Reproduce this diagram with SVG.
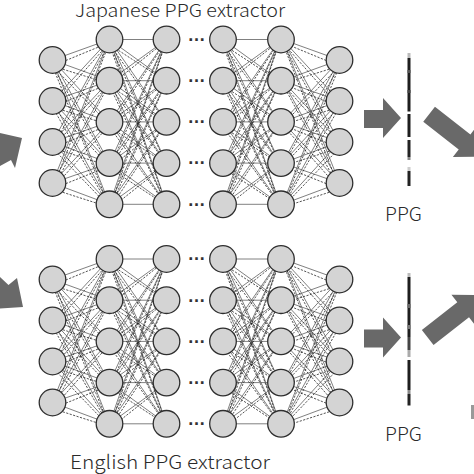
<svg xmlns="http://www.w3.org/2000/svg" xmlns:xlink="http://www.w3.org/1999/xlink" width="474" height="474" viewBox="0 0 474 474">
<style>
.nd{fill:#d4d4d4;stroke:#2e2e2e;stroke-width:1.3}
.sl{fill:none;stroke:#555;stroke-width:0.75}
.dl{fill:none;stroke:#1a1a1a;stroke-width:0.75;stroke-dasharray:2.2 1.4}
.lbl{font-family:"Noto Sans CJK JP","Noto Sans",sans-serif;font-weight:300;fill:#2a2a2a}
.dots{font-family:"Liberation Sans",sans-serif;font-size:18px;font-weight:bold;fill:#333;text-anchor:middle}
.arr{fill:#696969}
</style>
<defs>
<g id="gA">
<path class="sl" d="M0 60L57 39.5M0 60L57 80.7M0 60L57 121.9M0 60L57 163.1M0 60L57 204.3M0 101L57 39.5M0 101L57 80.7M0 101L57 121.9M0 101L57 163.1M0 101L57 204.3M0 142L57 39.5M0 142L57 80.7M0 142L57 121.9M0 142L57 163.1M0 142L57 204.3M0 183L57 39.5M0 183L57 80.7M0 183L57 121.9M0 183L57 163.1M0 183L57 204.3"/>
<path class="dl" d="M0 66L57 42.5M0 66L57 83.7M0 66L57 124.9M0 66L57 166.1M0 66L57 207.3M0 107L57 42.5M0 107L57 83.7M0 107L57 124.9M0 107L57 166.1M0 107L57 207.3M0 148L57 42.5M0 148L57 83.7M0 148L57 124.9M0 148L57 166.1M0 148L57 207.3M0 189L57 42.5M0 189L57 83.7M0 189L57 124.9M0 189L57 166.1M0 189L57 207.3"/>
</g>
<g id="gB">
<path class="sl" d="M0 39.5L57 39.5M0 39.5L57 80.7M0 39.5L57 121.9M0 39.5L57 163.1M0 39.5L57 204.3M0 80.7L57 39.5M0 80.7L57 80.7M0 80.7L57 121.9M0 80.7L57 163.1M0 80.7L57 204.3M0 121.9L57 39.5M0 121.9L57 80.7M0 121.9L57 121.9M0 121.9L57 163.1M0 121.9L57 204.3M0 163.1L57 39.5M0 163.1L57 80.7M0 163.1L57 121.9M0 163.1L57 163.1M0 163.1L57 204.3M0 204.3L57 39.5M0 204.3L57 80.7M0 204.3L57 121.9M0 204.3L57 163.1M0 204.3L57 204.3"/>
<path class="dl" d="M0 44.5L57 81.7M0 44.5L57 122.9M0 44.5L57 164.1M0 44.5L57 205.3M0 85.7L57 40.5M0 85.7L57 122.9M0 85.7L57 164.1M0 85.7L57 205.3M0 126.9L57 40.5M0 126.9L57 81.7M0 126.9L57 164.1M0 126.9L57 205.3M0 168.1L57 40.5M0 168.1L57 81.7M0 168.1L57 122.9M0 168.1L57 205.3M0 209.3L57 40.5M0 209.3L57 81.7M0 209.3L57 122.9M0 209.3L57 164.1"/>
</g>
<polygon id="bigArrow" points="0,-9.5 45,-9.5 45,-19 69,0 45,19 45,9.5 0,9.5"/>
</defs>

<g id="connectors">
<use xlink:href="#gA" transform="translate(52.5,0)"/>
<use xlink:href="#gB" transform="translate(109.5,0)"/>
<use xlink:href="#gB" transform="translate(223,0)"/>
<use xlink:href="#gA" transform="translate(339.5,0) scale(-1,1)"/>
<use xlink:href="#gA" transform="translate(52.5,219.5)"/>
<use xlink:href="#gB" transform="translate(109.5,219.5)"/>
<use xlink:href="#gB" transform="translate(223,219.5)"/>
<use xlink:href="#gA" transform="translate(339.5,219.5) scale(-1,1)"/>
<polygon class="arr" points="364,110 383,110 383,98 401,118 383,138 383,128 364,128"/>
<polygon class="arr" points="364,329.5 383,329.5 383,317.5 401,337.5 383,357.5 383,347.5 364,347.5"/>
<use xlink:href="#bigArrow" class="arr" transform="translate(429.1,114.2) rotate(38)"/>
<use xlink:href="#bigArrow" class="arr" transform="translate(427.7,337.5) rotate(-38)"/>
<polygon class="arr" points="0,133 22,138 15,168 11,160 0,166"/>
<polygon class="arr" points="0,277 8.5,285 17,278 23,307 0,308.5"/>
</g>

<g id="japanese-extractor">
<text class="lbl" x="75" y="16.5" font-size="18" textLength="210" lengthAdjust="spacingAndGlyphs">Japanese PPG extractor</text>
<g id="j-l1-1"><circle class="nd" cx="52.5" cy="60" r="13.3"/></g>
<g id="j-l1-2"><circle class="nd" cx="52.5" cy="101" r="13.3"/></g>
<g id="j-l1-3"><circle class="nd" cx="52.5" cy="142" r="13.3"/></g>
<g id="j-l1-4"><circle class="nd" cx="52.5" cy="183" r="13.3"/></g>
<g id="j-l2-1"><circle class="nd" cx="109.5" cy="39.5" r="13.3"/></g>
<g id="j-l2-2"><circle class="nd" cx="109.5" cy="80.7" r="13.3"/></g>
<g id="j-l2-3"><circle class="nd" cx="109.5" cy="121.9" r="13.3"/></g>
<g id="j-l2-4"><circle class="nd" cx="109.5" cy="163.1" r="13.3"/></g>
<g id="j-l2-5"><circle class="nd" cx="109.5" cy="204.3" r="13.3"/></g>
<g id="j-l3-1"><circle class="nd" cx="166.5" cy="39.5" r="13.3"/></g>
<g id="j-l3-2"><circle class="nd" cx="166.5" cy="80.7" r="13.3"/></g>
<g id="j-l3-3"><circle class="nd" cx="166.5" cy="121.9" r="13.3"/></g>
<g id="j-l3-4"><circle class="nd" cx="166.5" cy="163.1" r="13.3"/></g>
<g id="j-l3-5"><circle class="nd" cx="166.5" cy="204.3" r="13.3"/></g>
<text class="dots" x="196.5" y="40.8">…</text>
<text class="dots" x="196.5" y="82">…</text>
<text class="dots" x="196.5" y="123.2">…</text>
<text class="dots" x="196.5" y="164.4">…</text>
<text class="dots" x="196.5" y="205.6">…</text>
<g id="j-l4-1"><circle class="nd" cx="223" cy="39.5" r="13.3"/></g>
<g id="j-l4-2"><circle class="nd" cx="223" cy="80.7" r="13.3"/></g>
<g id="j-l4-3"><circle class="nd" cx="223" cy="121.9" r="13.3"/></g>
<g id="j-l4-4"><circle class="nd" cx="223" cy="163.1" r="13.3"/></g>
<g id="j-l4-5"><circle class="nd" cx="223" cy="204.3" r="13.3"/></g>
<g id="j-l5-1"><circle class="nd" cx="281" cy="39.5" r="13.3"/></g>
<g id="j-l5-2"><circle class="nd" cx="281" cy="80.7" r="13.3"/></g>
<g id="j-l5-3"><circle class="nd" cx="281" cy="121.9" r="13.3"/></g>
<g id="j-l5-4"><circle class="nd" cx="281" cy="163.1" r="13.3"/></g>
<g id="j-l5-5"><circle class="nd" cx="281" cy="204.3" r="13.3"/></g>
<g id="j-l6-1"><circle class="nd" cx="339.5" cy="60" r="13.3"/></g>
<g id="j-l6-2"><circle class="nd" cx="339.5" cy="101" r="13.3"/></g>
<g id="j-l6-3"><circle class="nd" cx="339.5" cy="142" r="13.3"/></g>
<g id="j-l6-4"><circle class="nd" cx="339.5" cy="183" r="13.3"/></g>
</g>

<g id="japanese-ppg">
<rect x="407.5" y="53" width="3" height="5" fill="#bbb"/>
<rect x="407.5" y="58" width="3" height="53.5" fill="#1e1e1e"/>
<rect x="407.5" y="70" width="3" height="3" fill="#555"/>
<rect x="407.5" y="90" width="3" height="3" fill="#444"/>
<rect x="407.5" y="114" width="3" height="23" fill="#1e1e1e"/>
<rect x="407.5" y="140" width="3" height="17" fill="#222"/>
<rect x="407.5" y="157" width="3" height="3" fill="#888"/>
<rect x="407.5" y="167" width="3" height="4" fill="#ccc"/>
<rect x="407.5" y="171" width="3" height="15" fill="#222"/>
<text class="lbl" x="385" y="221" font-size="19" textLength="37" lengthAdjust="spacingAndGlyphs">PPG</text>
</g>

<g id="english-extractor">
<g id="e-l1-1"><circle class="nd" cx="52.5" cy="279.5" r="13.3"/></g>
<g id="e-l1-2"><circle class="nd" cx="52.5" cy="320.5" r="13.3"/></g>
<g id="e-l1-3"><circle class="nd" cx="52.5" cy="361.5" r="13.3"/></g>
<g id="e-l1-4"><circle class="nd" cx="52.5" cy="402.5" r="13.3"/></g>
<g id="e-l2-1"><circle class="nd" cx="109.5" cy="259" r="13.3"/></g>
<g id="e-l2-2"><circle class="nd" cx="109.5" cy="300.2" r="13.3"/></g>
<g id="e-l2-3"><circle class="nd" cx="109.5" cy="341.4" r="13.3"/></g>
<g id="e-l2-4"><circle class="nd" cx="109.5" cy="382.6" r="13.3"/></g>
<g id="e-l2-5"><circle class="nd" cx="109.5" cy="423.8" r="13.3"/></g>
<g id="e-l3-1"><circle class="nd" cx="166.5" cy="259" r="13.3"/></g>
<g id="e-l3-2"><circle class="nd" cx="166.5" cy="300.2" r="13.3"/></g>
<g id="e-l3-3"><circle class="nd" cx="166.5" cy="341.4" r="13.3"/></g>
<g id="e-l3-4"><circle class="nd" cx="166.5" cy="382.6" r="13.3"/></g>
<g id="e-l3-5"><circle class="nd" cx="166.5" cy="423.8" r="13.3"/></g>
<text class="dots" x="196.5" y="260.3">…</text>
<text class="dots" x="196.5" y="301.5">…</text>
<text class="dots" x="196.5" y="342.7">…</text>
<text class="dots" x="196.5" y="383.9">…</text>
<text class="dots" x="196.5" y="425.1">…</text>
<g id="e-l4-1"><circle class="nd" cx="223" cy="259" r="13.3"/></g>
<g id="e-l4-2"><circle class="nd" cx="223" cy="300.2" r="13.3"/></g>
<g id="e-l4-3"><circle class="nd" cx="223" cy="341.4" r="13.3"/></g>
<g id="e-l4-4"><circle class="nd" cx="223" cy="382.6" r="13.3"/></g>
<g id="e-l4-5"><circle class="nd" cx="223" cy="423.8" r="13.3"/></g>
<g id="e-l5-1"><circle class="nd" cx="281" cy="259" r="13.3"/></g>
<g id="e-l5-2"><circle class="nd" cx="281" cy="300.2" r="13.3"/></g>
<g id="e-l5-3"><circle class="nd" cx="281" cy="341.4" r="13.3"/></g>
<g id="e-l5-4"><circle class="nd" cx="281" cy="382.6" r="13.3"/></g>
<g id="e-l5-5"><circle class="nd" cx="281" cy="423.8" r="13.3"/></g>
<g id="e-l6-1"><circle class="nd" cx="339.5" cy="279.5" r="13.3"/></g>
<g id="e-l6-2"><circle class="nd" cx="339.5" cy="320.5" r="13.3"/></g>
<g id="e-l6-3"><circle class="nd" cx="339.5" cy="361.5" r="13.3"/></g>
<g id="e-l6-4"><circle class="nd" cx="339.5" cy="402.5" r="13.3"/></g>
<text class="lbl" x="70" y="469" font-size="19" textLength="200" lengthAdjust="spacingAndGlyphs">English PPG extractor</text>
</g>

<g id="english-ppg">
<rect x="407.5" y="273" width="3" height="4" fill="#bbb"/>
<rect x="407.5" y="277" width="3" height="60" fill="#1e1e1e"/>
<rect x="407.5" y="304" width="3" height="4" fill="#666"/>
<rect x="407.5" y="325" width="3" height="4" fill="#777"/>
<rect x="407.5" y="337" width="3" height="13" fill="#444"/>
<rect x="407.5" y="350" width="3" height="7" fill="#aaa"/>
<rect x="407.5" y="360" width="3" height="30" fill="#1e1e1e"/>
<rect x="407.5" y="390" width="3" height="4" fill="#888"/>
<rect x="407.5" y="394" width="3" height="11.5" fill="#222"/>
<text class="lbl" x="385" y="440.5" font-size="19" textLength="37" lengthAdjust="spacingAndGlyphs">PPG</text>
</g>

<rect x="471" y="405" width="3" height="14" fill="#999"/>
</svg>
